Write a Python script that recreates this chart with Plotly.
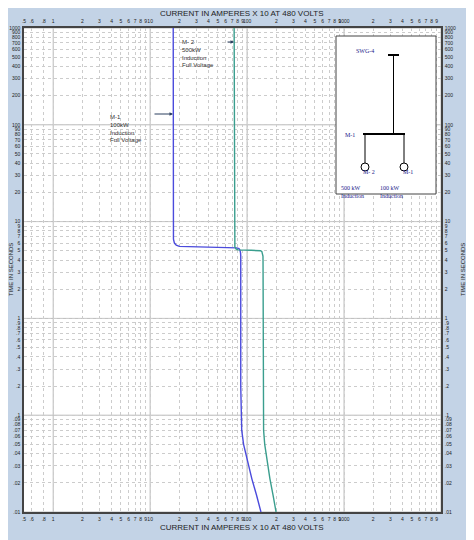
import plotly.graph_objects as go
import numpy as np

m1_current = [17.3, 17.3, 17.4, 17.8, 18.6, 20, 40, 78, 82.5, 84.5, 85.6, 86, 86, 86.5, 88, 92, 100, 112, 125, 139]
m1_time = [1000, 7.5, 6.6, 6.0, 5.7, 5.55, 5.45, 5.35, 5.25, 5.05, 4.75, 4.4, 0.2, 0.1, 0.07, 0.05, 0.035, 0.022, 0.015, 0.01]
m2_current = [73.5, 73.5, 73.8, 74.8, 76.5, 80, 110, 138, 142, 144.5, 145.8, 146, 146, 146.5, 148, 152, 160, 172, 185, 199]
m2_time = [1000, 7.0, 6.0, 5.5, 5.25, 5.1, 5.05, 5.0, 4.9, 4.7, 4.4, 4.0, 0.2, 0.1, 0.07, 0.05, 0.035, 0.022, 0.015, 0.01]

x_ticks = [0.5, 0.6, 0.8] + [m*10**e for e in range(0, 4) for m in range(1, 10)]
def xlab(v):
    if v < 1:
        return ('%.1f' % v)[1:]
    e = int(np.floor(np.log10(v)+1e-9)); m = round(v/10**e)
    return str(int(v)) if m == 1 else str(m)
x_text = [xlab(v) for v in x_ticks]
y_ticks = [m*10**e for e in range(-2, 3) for m in range(1, 10)] + [1000]
def ylab(v):
    if v < 0.1 - 1e-12:
        return ('%.2f' % v)[1:]
    if v < 1:
        return ('%.1f' % v)[1:]
    return str(int(round(v)))
y_text = [ylab(v) for v in y_ticks]

fig = go.Figure()
fig.add_trace(go.Scatter(x=m1_current, y=m1_time, mode='lines', line=dict(color='#4b4bdc', width=1.4), hoverinfo='skip'))
fig.add_trace(go.Scatter(x=m2_current, y=m2_time, mode='lines', line=dict(color='#3a9e8e', width=1.4), hoverinfo='skip'))
fig.add_trace(go.Scatter(x=[1], y=[1], xaxis='x2', yaxis='y2', mode='markers', marker=dict(opacity=0), hoverinfo='skip'))

shapes = []
for e in range(0, 5):
    shapes.append(dict(type='line', xref='x', yref='paper', x0=10**e, x1=10**e, y0=0, y1=1, line=dict(color='#bbbbbb', width=1), layer='below'))
for e in range(-2, 4):
    shapes.append(dict(type='line', xref='paper', yref='y', x0=0, x1=1, y0=10**e, y1=10**e, line=dict(color='#bbbbbb', width=1), layer='below'))
def px(x): return (x-23)/417
def py(y): return 1-(y-27)/484
shapes.append(dict(type='rect', xref='paper', yref='paper', x0=px(335), x1=px(435), y0=py(193), y1=py(35), line=dict(color='#444', width=1), fillcolor='white'))
shapes += [
    dict(type='line', xref='paper', yref='paper', x0=px(387), x1=px(398), y0=py(54), y1=py(54), line=dict(color='black', width=2)),
    dict(type='line', xref='paper', yref='paper', x0=px(392.5), x1=px(392.5), y0=py(54), y1=py(133), line=dict(color='black', width=1)),
    dict(type='line', xref='paper', yref='paper', x0=px(362), x1=px(404), y0=py(133), y1=py(133), line=dict(color='black', width=2)),
    dict(type='line', xref='paper', yref='paper', x0=px(364), x1=px(364), y0=py(133), y1=py(162), line=dict(color='black', width=1)),
    dict(type='line', xref='paper', yref='paper', x0=px(403), x1=px(403), y0=py(133), y1=py(162), line=dict(color='black', width=1)),
    dict(type='circle', xref='paper', yref='paper', x0=px(360), x1=px(368), y0=py(170), y1=py(162), line=dict(color='black', width=1), fillcolor='white'),
    dict(type='circle', xref='paper', yref='paper', x0=px(399), x1=px(407), y0=py(170), y1=py(162), line=dict(color='black', width=1), fillcolor='white'),
]
ann = []
tf = dict(family='Liberation Serif', size=6, color='#1a1a8a')
ann += [
    dict(x=px(375), y=py(45), text='SWG-4', font=tf),
    dict(x=px(356), y=py(129), text='M-1', font=tf),
    dict(x=px(376), y=py(166), text='M- 2', font=tf),
    dict(x=px(414), y=py(166), text='M-1', font=tf),
    dict(x=px(365), y=py(182), text='500 kW<br>Induction', font=tf, align='left'),
    dict(x=px(404), y=py(182), text='100 kW<br>Induction', font=tf, align='left'),
]
for a in ann:
    a.update(xref='paper', yref='paper', showarrow=False)
lf = dict(family='Liberation Sans', size=6, color='#333')
ann += [
    dict(xref='paper', yref='paper', x=px(179), y=py(36), xanchor='left', yanchor='top', text='M- 2<br>500kW<br>Induction<br>Full Voltage', font=lf, showarrow=False, align='left'),
    dict(xref='paper', yref='paper', x=px(107), y=py(111), xanchor='left', yanchor='top', text='M-1<br>100kW<br>Induction<br>Full Voltage', font=lf, showarrow=False, align='left'),
    dict(xref='paper', yref='paper', x=px(172), y=py(113), ax=-20, ay=0, showarrow=True, arrowhead=2, arrowsize=0.7, arrowwidth=1, text=''),
    dict(xref='paper', yref='paper', x=px(233), y=py(41), ax=-8, ay=0, showarrow=True, arrowhead=2, arrowsize=0.7, arrowwidth=1, text=''),
    dict(xref='paper', yref='paper', x=px(240), y=py(6), text='CURRENT IN AMPERES X 10 AT 480 VOLTS', showarrow=False, font=dict(family='Liberation Sans', size=8, color='#222')),
    dict(xref='paper', yref='paper', x=px(240), y=py(533), text='CURRENT IN AMPERES X 10 AT 480 VOLTS', showarrow=False, font=dict(family='Liberation Sans', size=8, color='#222')),
    dict(xref='paper', yref='paper', x=px(5), y=0.5, text='TIME IN SECONDS', textangle=-90, showarrow=False, font=dict(family='Liberation Sans', size=6, color='#222')),
    dict(xref='paper', yref='paper', x=px(467), y=0.5, text='TIME IN SECONDS', textangle=-90, showarrow=False, font=dict(family='Liberation Sans', size=6, color='#222')),
]

tick_font = dict(family='Liberation Sans', size=5, color='#222')
ax_common = dict(showline=True, linecolor='#444', linewidth=1.5, gridcolor='#cccccc', griddash='dot', gridwidth=1,
                 zeroline=False, tickfont=tick_font, ticks='', automargin=False, tickangle=0, ticklabelstandoff=1)
ax_nogrid = {k: v for k, v in ax_common.items() if k not in ('gridcolor', 'griddash', 'gridwidth')}
xr = [np.log10(0.5), 4]
yr = [-2, 3]
fig.update_layout(
    width=474, height=540, margin=dict(l=16, r=41, t=20, b=36),
    paper_bgcolor='#c3d3e6', plot_bgcolor='white', showlegend=False,
    xaxis=dict(type='log', range=xr, tickvals=x_ticks, ticktext=x_text, **ax_common),
    yaxis=dict(type='log', range=yr, tickvals=y_ticks, ticktext=y_text, **ax_common),
    xaxis2=dict(type='log', range=xr, tickvals=x_ticks, ticktext=x_text, overlaying='x', side='top', showgrid=False, **ax_nogrid),
    yaxis2=dict(type='log', range=yr, tickvals=y_ticks, ticktext=y_text, overlaying='y', side='right', showgrid=False, **ax_nogrid),
    shapes=shapes, annotations=ann,
)
fig.write_html('out.html')
